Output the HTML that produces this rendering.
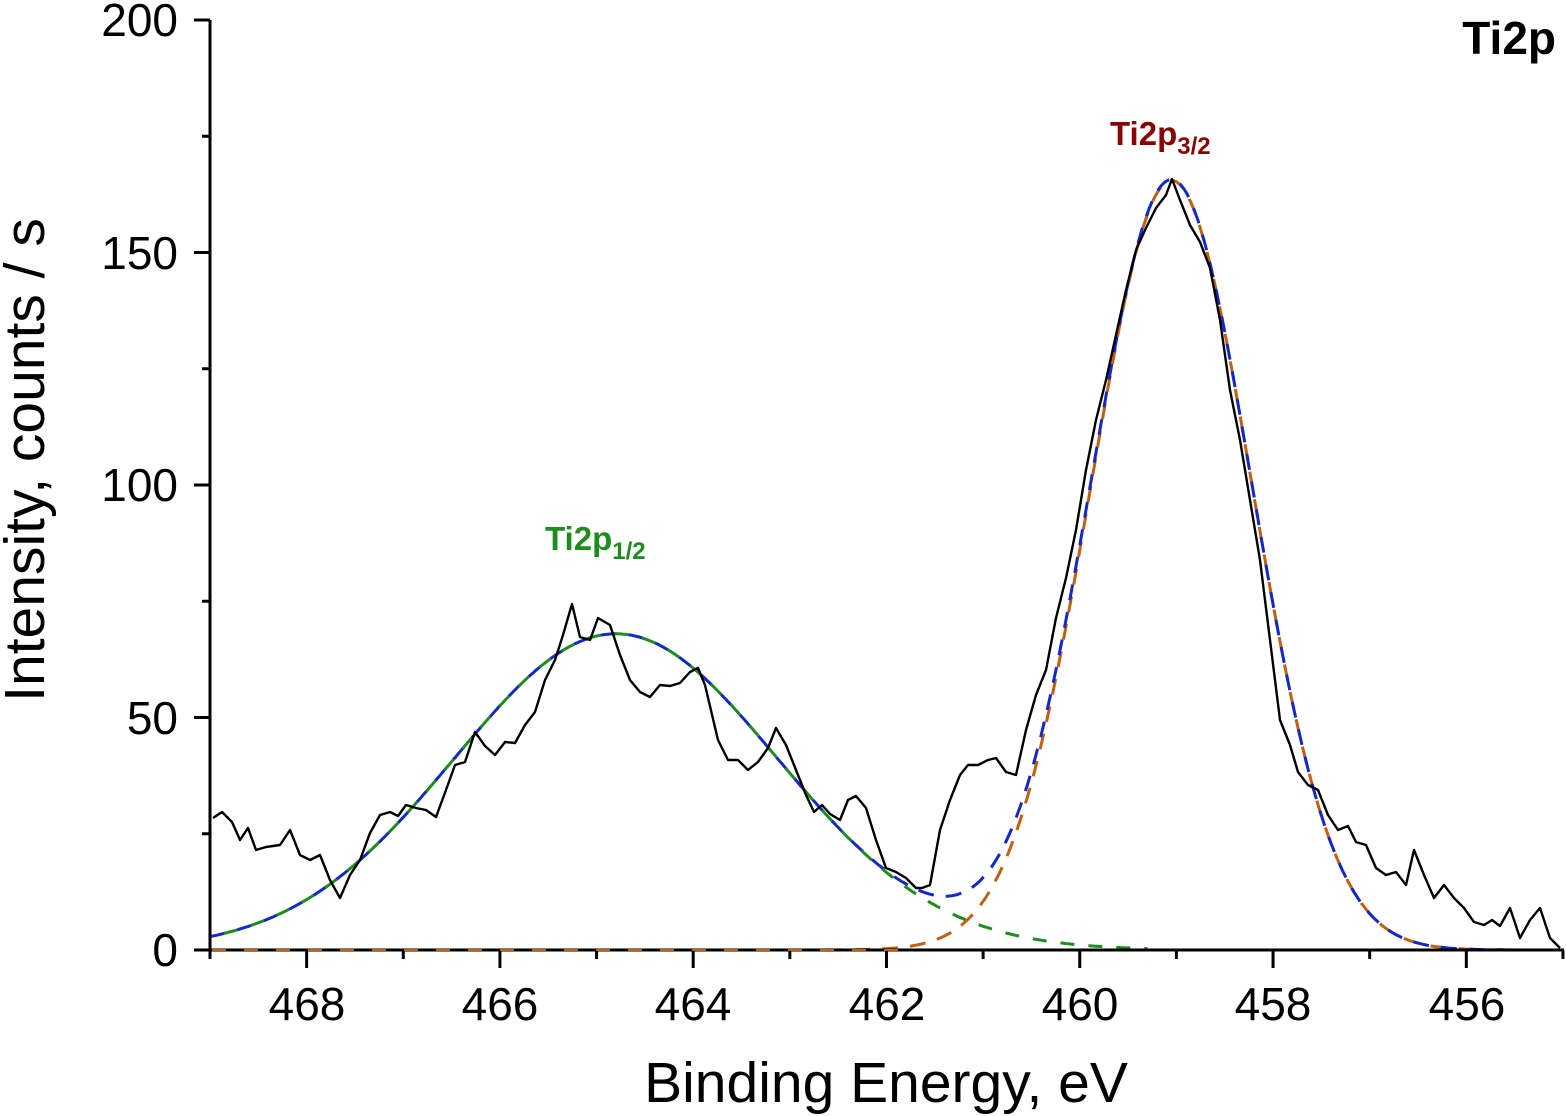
<!DOCTYPE html>
<html><head><meta charset="utf-8"><style>
html,body{margin:0;padding:0;background:#fff;}
svg{display:block;font-family:"Liberation Sans",Arial,sans-serif;}
</style></head><body>
<svg id="s" width="1566" height="1116" viewBox="0 0 1566 1116" xmlns="http://www.w3.org/2000/svg">
<g id="curves"></g>
<polyline fill="none" stroke="#000" stroke-width="2.4" stroke-linejoin="round" points="213,818 222,812 232,822 240,840 248,828 256,850 266,847 280,845 290,830 300,855 310,860 320,855 330,880 340,898 350,875 360,860 370,833 380,815 390,812 398,816 406,805 416,808 426,810 436,817 446,790 455,765 465,762 475,732 485,746 495,755 505,742 515,743 525,725 535,712 545,680 555,660 563,635 572,604 580,637 590,640 598,618 610,625 620,655 630,680 640,692 650,697 660,685 670,686 680,683 690,672 698,668 705,685 718,740 728,760 738,760 748,770 758,762 768,748 776,728 786,745 796,770 806,795 814,812 822,805 830,814 840,820 848,800 856,796 866,808 876,840 886,868 896,872 906,878 916,888 922,888 930,885 940,830 950,800 960,775 968,765 978,765 988,760 996,758 1006,772 1016,775 1026,730 1036,695 1046,670 1056,618 1066,578 1076,530 1086,470 1096,420 1106,380 1116,335 1126,290 1136,250 1146,228 1156,208 1166,195 1172,179 1180,200 1190,225 1200,242 1210,268 1220,320 1230,390 1240,440 1250,500 1260,560 1270,640 1280,720 1290,745 1298,772 1308,785 1318,790 1328,815 1338,830 1348,826 1356,842 1366,845 1376,868 1386,875 1396,872 1406,885 1414,850 1424,875 1434,898 1444,885 1454,898 1464,908 1474,922 1484,925 1492,920 1500,926 1510,908 1520,938 1530,920 1540,908 1550,938 1560,948"/>
<g id="axes" stroke="#000" stroke-width="3" fill="none">
<line x1="210" y1="20" x2="210" y2="958"/>
<line x1="202" y1="950" x2="1564" y2="950"/>
</g>
<g id="ticks" stroke="#000" stroke-width="3"></g>
<g id="over"></g>
<g font-size="46" text-anchor="middle" fill="#000">
<text x="307" y="1020">468</text><text x="500" y="1020">466</text><text x="693" y="1020">464</text><text x="887" y="1020">462</text><text x="1080" y="1020">460</text><text x="1273" y="1020">458</text><text x="1467" y="1020">456</text>
</g>
<g font-size="46" text-anchor="end" fill="#000">
<text x="178" y="966">0</text><text x="178" y="734">50</text><text x="178" y="501">100</text><text x="178" y="269">150</text><text x="178" y="36">200</text>
</g>
<text x="886" y="1102" font-size="57" text-anchor="middle">Binding Energy, eV</text>
<text transform="translate(44,460) rotate(-90)" font-size="57" text-anchor="middle">Intensity, counts / s</text>
<text x="1556" y="54" font-size="46" font-weight="bold" text-anchor="end">Ti2p</text>
<text x="1110" y="145" font-size="33" font-weight="bold" fill="#8b0000">Ti2p<tspan font-size="24" dy="9">3/2</tspan></text>
<text x="545" y="550" font-size="33" font-weight="bold" fill="#1e8c1e">Ti2p<tspan font-size="24" dy="9">1/2</tspan></text>
</svg>
<script>
var ns="http://www.w3.org/2000/svg";
function X(e){return 210+(469-e)*96.64;}
function Y(v){return 950-v*4.65;}
function g(e,c,h,s){return h*Math.exp(-(e-c)*(e-c)/(2*s*s));}
function g1(e){return g(e,464.8,68,1.67);}
function g2(e){return g(e,459.05,165.5,0.83);}
function path(f,col,dash,off,grp){var p="";for(var e=469;e>=455;e-=0.02){p+=(p?"L":"M")+X(e).toFixed(1)+","+Y(f(e)).toFixed(1);}
var el=document.createElementNS(ns,"path");el.setAttribute("d",p);el.setAttribute("fill","none");el.setAttribute("stroke",col);el.setAttribute("stroke-width","3");el.setAttribute("stroke-dasharray",dash);if(off)el.setAttribute("stroke-dashoffset",off);document.getElementById(grp||"curves").appendChild(el);}
path(g2,"#c06010","16 12");
path(function(e){return g1(e)+g2(e);},"#1428c8","16 12");
path(function(e){return g1(e)>0.3?g1(e):NaN;},"#1e8c1e","14 14",14);
var b=document.createElementNS(ns,"line");b.setAttribute("x1",212);b.setAttribute("y1",950);b.setAttribute("x2",900);b.setAttribute("y2",950);b.setAttribute("stroke","#c06010");b.setAttribute("stroke-width","2");b.setAttribute("stroke-dasharray","14 18");document.getElementById("over").appendChild(b);
var t=document.getElementById("ticks");
function L(a,b,c,d){var l=document.createElementNS(ns,"line");l.setAttribute("x1",a);l.setAttribute("y1",b);l.setAttribute("x2",c);l.setAttribute("y2",d);t.appendChild(l);}
for(var e=469;e>=455;e--){var x=X(e);L(x,950,x,(e%2==0)?968:959);}
for(var v=0;v<=200;v+=25){var y=Y(v);L(210,y,(v%50==0)?194:202,y);}
</script>
</body></html>
